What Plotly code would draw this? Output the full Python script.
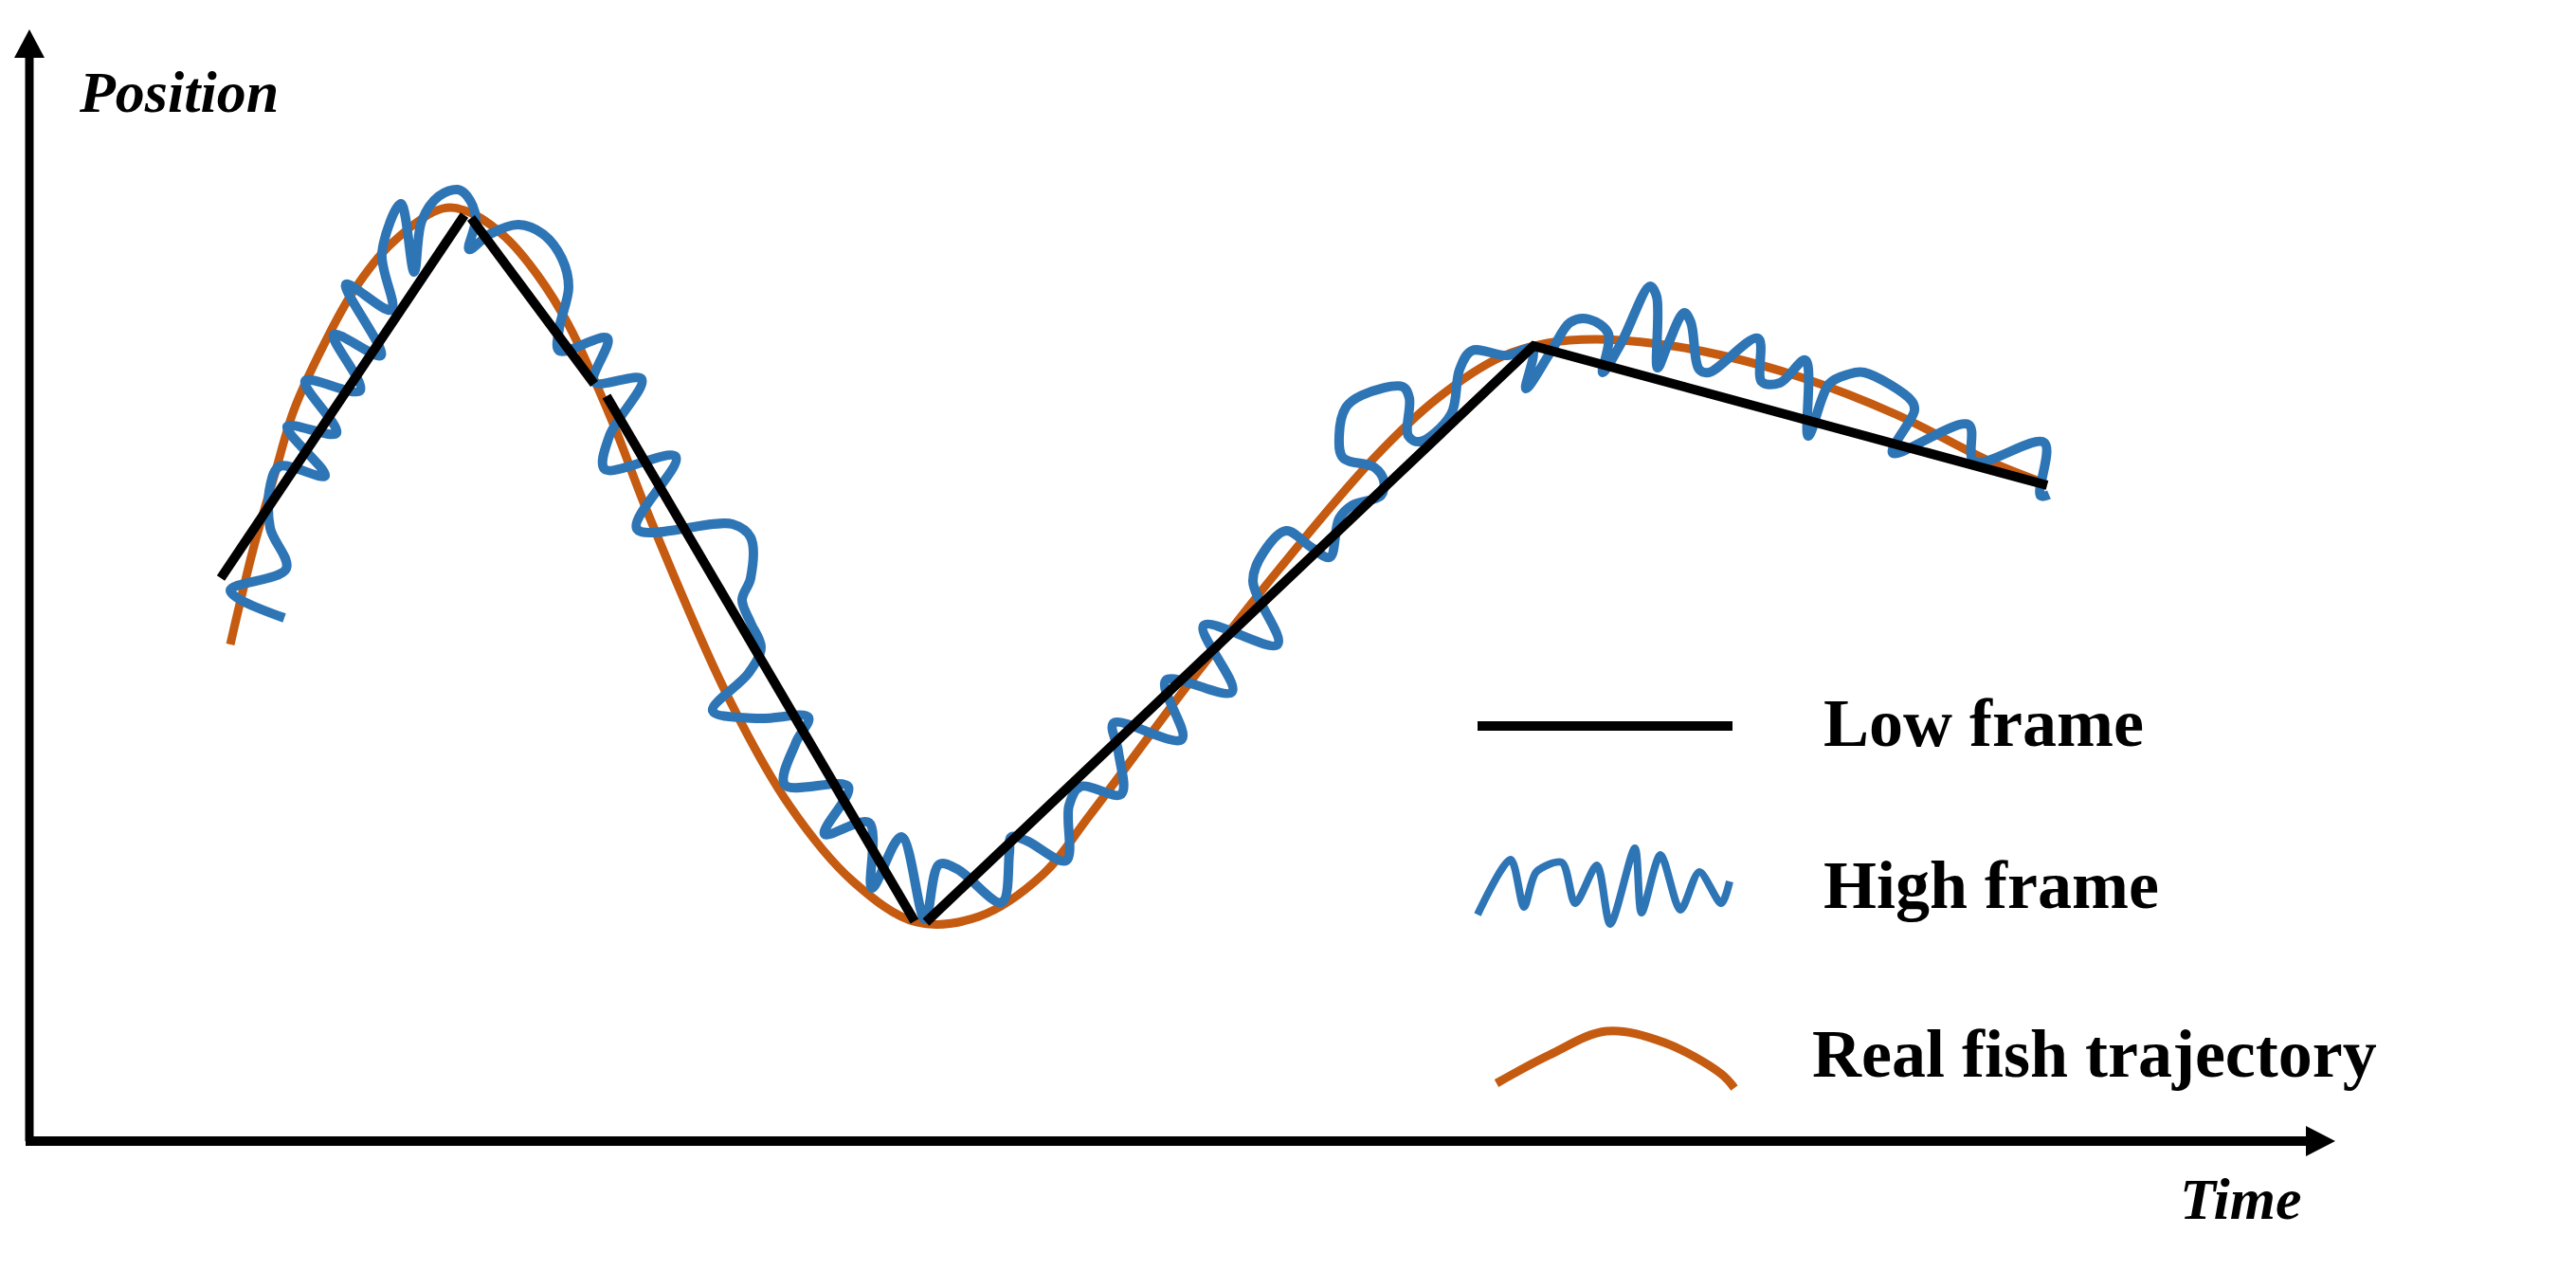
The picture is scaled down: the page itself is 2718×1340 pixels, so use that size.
import plotly.graph_objects as go

# canvas units: x = time, y = position (y grows downward, like the drawing)
W, H = 2718, 1340
PAGE_OFFSET = 8  # default body margin of the html page

# real fish trajectory (smooth orange curve)
real_t = [243, 267, 290, 310, 340, 373, 413, 467, 493, 533, 567, 600, 647, 683, 767, 833, 900, 967,
          1033, 1100, 1150, 1250, 1350, 1450, 1517, 1583, 1633, 1683, 1750, 1817, 1900, 2000, 2100, 2158]
real_p = [680, 580, 500, 433, 367, 307, 257, 220, 223, 250, 290, 343, 447, 540, 733, 850, 930, 973,
          967, 923, 860, 727, 600, 483, 420, 377, 362, 358, 363, 375, 398, 437, 487, 510]

# high frame-rate samples (noisy blue curve)
high_t = [300, 243, 302, 285, 285, 295, 343, 303, 355, 322, 380, 352, 402, 365, 413, 403, 423, 437,
          445, 463, 483, 493, 502, 495, 517, 547, 573, 593, 600, 590, 590, 641, 627, 677, 643, 638,
          713, 672, 773, 792, 792, 783, 792, 803, 790, 752, 800, 853, 840, 828, 895, 870, 917, 920,
          951, 976, 991, 1010, 1057, 1065, 1067, 1083, 1125, 1128, 1140, 1183, 1180, 1175, 1247, 1230,
          1300, 1270, 1348, 1322, 1333, 1357, 1383, 1403, 1413, 1427, 1457, 1460, 1450, 1417, 1413,
          1420, 1437, 1480, 1487, 1486, 1498, 1531, 1540, 1553, 1590, 1617, 1610, 1637, 1657, 1677,
          1697, 1691, 1710, 1741, 1748, 1749, 1760, 1777, 1784, 1793, 1803, 1855, 1859, 1878, 1905,
          1908, 1930, 1950, 1967, 2017, 2020, 1997, 2077, 2083, 2157, 2153, 2162]
high_p = [652, 623, 600, 557, 513, 492, 502, 450, 457, 402, 412, 353, 375, 300, 327, 267, 215, 287,
          233, 207, 200, 207, 230, 263, 247, 237, 247, 273, 303, 347, 370, 357, 403, 400, 460, 495,
          482, 558, 553, 567, 610, 633, 657, 683, 710, 750, 758, 757, 783, 828, 830, 880, 868, 937,
          883, 970, 912, 917, 952, 900, 883, 887, 908, 850, 830, 838, 793, 763, 780, 718,
          730, 660, 680, 613, 583, 560, 577, 588, 547, 533, 523, 507, 493, 483, 460,
          430, 417, 408, 420, 460, 466, 437, 390, 370, 375, 368, 410, 370, 340, 337,
          352, 393, 363, 302, 313, 388, 363, 330, 340, 390, 393, 357, 403, 404, 380,
          460, 405, 395, 393, 423, 433, 478, 448, 487, 467, 523, 522]

# low frame-rate samples (black polyline, None = gap between strokes)
low_t = [233, 490, None, 497, 627, None, 640, 965, None, 977, 1618, 2160]
low_p = [610, 227, None, 230, 405, None, 418, 972, None, 973, 365, 512]

# legend glyphs
leg_low_t = [1559, 1828]
leg_low_p = [766, 766]
leg_high_t = [1559, 1594, 1608, 1621, 1648, 1662, 1685, 1699, 1725, 1732, 1752, 1773, 1793, 1816, 1825]
leg_high_p = [965, 907, 957, 920, 910, 953, 913, 975, 895, 963, 902, 960, 920, 953, 930]
leg_real_t = [1579, 1635, 1695, 1756, 1816, 1830]
leg_real_p = [1143, 1113, 1088, 1100, 1133, 1148]

legend_labels = ["Low frame", "High frame", "Real fish trajectory"]
legend_label_t = [1922, 1922, 1910]
legend_label_p = [763, 934, 1112]

BLUE = "#2E75B6"
ORANGE = "#C55A11"
FONT = "Liberation Serif, Times New Roman, serif"

fig = go.Figure()

fig.add_trace(go.Scatter(x=real_t, y=real_p, mode="lines",
                         line=dict(color=ORANGE, width=9, shape="spline", smoothing=1.0)))
fig.add_trace(go.Scatter(x=high_t, y=high_p, mode="lines",
                         line=dict(color=BLUE, width=10, shape="spline", smoothing=1.0)))
fig.add_trace(go.Scatter(x=low_t, y=low_p, mode="lines", connectgaps=False,
                         line=dict(color="black", width=10)))

fig.add_trace(go.Scatter(x=leg_low_t, y=leg_low_p, mode="lines",
                         line=dict(color="black", width=10)))
fig.add_trace(go.Scatter(x=leg_high_t, y=leg_high_p, mode="lines",
                         line=dict(color=BLUE, width=8, shape="spline", smoothing=0.8)))
fig.add_trace(go.Scatter(x=leg_real_t, y=leg_real_p, mode="lines",
                         line=dict(color=ORANGE, width=9, shape="spline", smoothing=1.0)))

# axes drawn as arrows
fig.add_shape(type="line", x0=31, y0=1204, x1=31, y1=58, line=dict(color="black", width=9))
fig.add_shape(type="path", path="M 15 61 L 47 61 L 31 31 Z", fillcolor="black", line=dict(width=0))
fig.add_shape(type="line", x0=27, y0=1204, x1=2436, y1=1204, line=dict(color="black", width=10))
fig.add_shape(type="path", path="M 2433 1188 L 2433 1220 L 2464 1204 Z", fillcolor="black", line=dict(width=0))

fig.add_annotation(x=81, y=97, text="<b><i>Position</i></b>", showarrow=False,
                   xanchor="left", yanchor="middle", font=dict(family=FONT, size=62, color="black"))
fig.add_annotation(x=2298, y=1265, text="<b><i>Time</i></b>", showarrow=False,
                   xanchor="left", yanchor="middle", font=dict(family=FONT, size=62, color="black"))

for lab, tx, py in zip(legend_labels, legend_label_t, legend_label_p):
    fig.add_annotation(x=tx, y=py, text="<b>" + lab + "</b>", showarrow=False,
                       xanchor="left", yanchor="middle", font=dict(family=FONT, size=72, color="black"))

fig.update_layout(
    width=W, height=H,
    margin=dict(l=0, r=0, t=0, b=0),
    paper_bgcolor="white", plot_bgcolor="white",
    showlegend=False,
    hovermode=False,
    xaxis=dict(range=[PAGE_OFFSET, W + PAGE_OFFSET], visible=False, fixedrange=True),
    yaxis=dict(range=[H + PAGE_OFFSET, PAGE_OFFSET], visible=False, fixedrange=True),
)

fig.write_html("out.html", config={"displayModeBar": False})
